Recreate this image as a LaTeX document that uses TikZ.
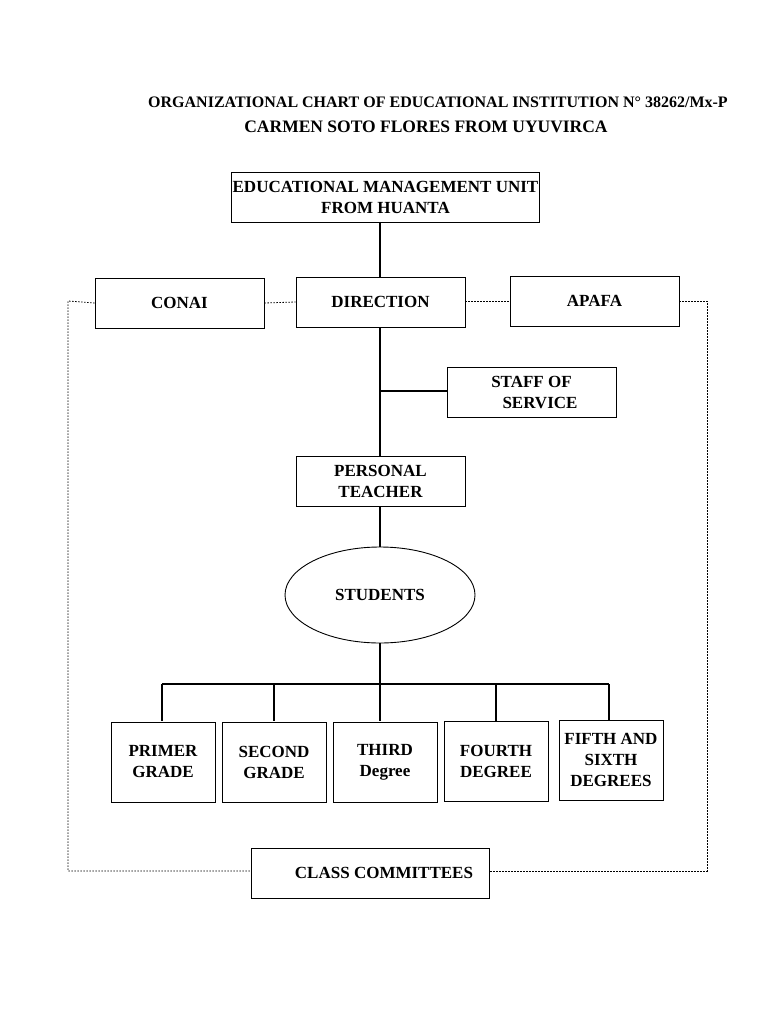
\documentclass[tikz,border=0pt]{standalone}
\usepackage{fontspec}
\setmainfont{Liberation Serif}
\usetikzlibrary{shapes.geometric}
\begin{document}
\begin{tikzpicture}[x=1pt,y=-1pt,
  box/.style={draw,line width=0.9pt,font=\bfseries\fontsize{17}{21}\selectfont,align=center,inner sep=1pt},
  tree/.style={line width=1.6pt},
  dot/.style={line width=0.8pt,dash pattern=on 1.5pt off 1.5pt}]
\useasboundingbox (0,0) rectangle (768,1024);
\node[font=\bfseries\fontsize{16}{18}\selectfont] (t1) at (438,102) {ORGANIZATIONAL CHART OF EDUCATIONAL INSTITUTION N° 38262/Mx-P};
\node[font=\bfseries\fontsize{17.5}{20}\selectfont] (t2) at (426,127) {CARMEN SOTO FLORES FROM UYUVIRCA};
\node[box,minimum width=287pt,minimum height=50pt] (emu) at (385.5,197) {EDUCATIONAL MANAGEMENT UNIT\\FROM HUANTA};
\node[box,minimum width=169pt,minimum height=50pt] (conai) at (179.5,303) {CONAI};
\node[box,minimum width=169pt,minimum height=50pt] (dir) at (380.5,302) {DIRECTION};
\node[box,minimum width=169pt,minimum height=50pt] (apafa) at (594.5,301) {APAFA};
\node[box,minimum width=169pt,minimum height=50pt] (staff) at (531.5,392) {STAFF OF\\\quad SERVICE};
\node[box,minimum width=169pt,minimum height=50pt] (pt) at (380.5,481) {PERSONAL\\TEACHER};
\node[box,ellipse,minimum width=190pt,minimum height=96pt] (stu) at (380,595) {STUDENTS};
\node[box,minimum width=104pt,minimum height=80pt] (g1) at (163,762) {PRIMER\\GRADE};
\node[box,minimum width=104pt,minimum height=80pt] (g2) at (274,762) {SECOND\\GRADE};
\node[box,minimum width=104pt,minimum height=80pt] (g3) at (385,762) {THIRD\\Degree};
\node[box,minimum width=104pt,minimum height=80pt] (g4) at (496,761) {FOURTH\\DEGREE};
\node[box,minimum width=104pt,minimum height=80pt] (g5) at (611,760) {FIFTH AND\\SIXTH\\DEGREES};
\node[box,minimum width=238pt,minimum height=50pt] (cc) at (370,873) {\hspace*{28pt}CLASS COMMITTEES};
\coordinate (bar) at (380,684);
\draw[tree] (380,222) -- (380,277);
\draw[tree] (380,327) -- (380,456);
\draw[tree] (380,391) -- (staff.west |- 0,391);
\draw[tree] (380,506) -- (stu.north);
\draw[tree] (stu.south) -- (bar);
\draw[tree] (162,684) -- (609,684);
\foreach \g/\x in {g1/162,g2/274,g3/380,g4/496,g5/609} \draw[tree] (\x,684) -- (\x,721);
\draw[dot] (conai.east) -- (dir.west);
\draw[dot] (dir.east |- 0,301) -- (apafa.west);
\draw[dot] (conai.west) -- (68,301) -- (68,871) -- (cc.west |- 0,871);
\draw[dot] (apafa.east) -- (707,301) -- (707,871) -- (cc.east |- 0,871);
\end{tikzpicture}
\end{document}
